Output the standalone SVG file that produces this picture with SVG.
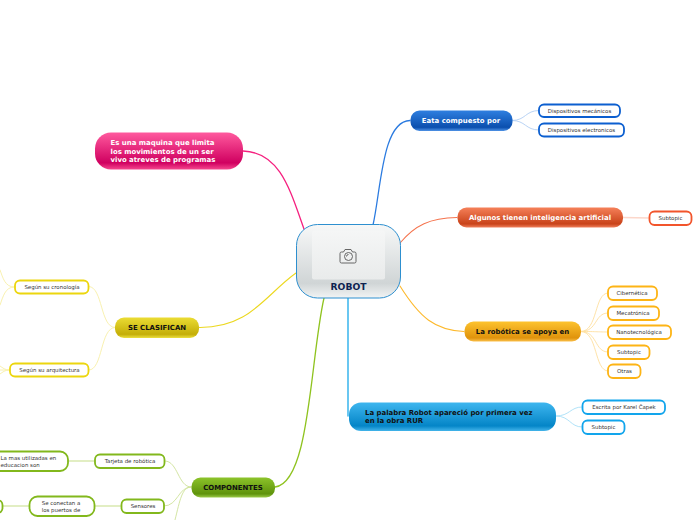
<svg xmlns="http://www.w3.org/2000/svg" width="696" height="520" viewBox="0 0 696 520">
<style>
text{font-family:"DejaVu Sans",Verdana,sans-serif;text-anchor:middle}
.m{font-size:6.95px;font-weight:bold}
.w{fill:#fff}.k{fill:#111}
.s{font-size:5.45px;fill:#333}
.sb{fill:#fff;stroke-width:1.8}
.l{text-anchor:start}
</style>
<defs>
<linearGradient id="gc" x1="0" y1="0" x2="0" y2="1"><stop offset="0" stop-color="#f7f8f8"/><stop offset=".8" stop-color="#d0d5d6"/><stop offset="1" stop-color="#f2f4f4"/></linearGradient>
<linearGradient id="gi" x1="0" y1="0" x2="0" y2="1"><stop offset="0" stop-color="#f5f6f6"/><stop offset="1" stop-color="#e9ebeb"/></linearGradient>
<linearGradient id="g1" x1="0" y1="0" x2="0" y2="1"><stop offset="0" stop-color="#2f7fe0"/><stop offset=".82" stop-color="#0b4fae"/><stop offset="1" stop-color="#4f93e6"/></linearGradient>
<linearGradient id="g2" x1="0" y1="0" x2="0" y2="1"><stop offset="0" stop-color="#f58059"/><stop offset=".82" stop-color="#c9431a"/><stop offset="1" stop-color="#f0805c"/></linearGradient>
<linearGradient id="g3" x1="0" y1="0" x2="0" y2="1"><stop offset="0" stop-color="#fdc32e"/><stop offset=".82" stop-color="#e0930c"/><stop offset="1" stop-color="#fbc04a"/></linearGradient>
<linearGradient id="g4" x1="0" y1="0" x2="0" y2="1"><stop offset="0" stop-color="#3eb6ef"/><stop offset=".82" stop-color="#0485c7"/><stop offset="1" stop-color="#43b4ea"/></linearGradient>
<linearGradient id="g5" x1="0" y1="0" x2="0" y2="1"><stop offset="0" stop-color="#ff5a9e"/><stop offset=".82" stop-color="#d00060"/><stop offset="1" stop-color="#f5488f"/></linearGradient>
<linearGradient id="g6" x1="0" y1="0" x2="0" y2="1"><stop offset="0" stop-color="#ebdc33"/><stop offset=".82" stop-color="#c4ae08"/><stop offset="1" stop-color="#ece03f"/></linearGradient>
<linearGradient id="g7" x1="0" y1="0" x2="0" y2="1"><stop offset="0" stop-color="#8cc32a"/><stop offset=".82" stop-color="#5f930c"/><stop offset="1" stop-color="#9ccb48"/></linearGradient>
</defs>
<g id="connectors" fill="none" stroke-linecap="round">
<path d="M373 225C381 190 382 121 410 120.500" stroke="#2b7be0" stroke-width="1.300"/>
<path d="M400 243C415 225 430 218 457 217.500" stroke="#f5734d" stroke-width="1.100"/>
<path d="M400 286C420 318 435 330 464 331.500" stroke="#fdb92c" stroke-width="1.100"/>
<path d="M348 298V416" stroke="#19a9ea" stroke-width="1.300"/>
<path d="M304 229C290 190 280 152 243 151" stroke="#f5207f" stroke-width="1.300"/>
<path d="M296 273C265 295 250 328 199 327.500" stroke="#ecd820" stroke-width="1.100"/>
<path d="M324 298C310 360 310 483 275 487" stroke="#8fc31f" stroke-width="1.300"/>
<g stroke-width=".9" opacity=".9">
<path d="M512 120.500C526 120.500 525 110.500 539 110.500M512 120.500C526 120.500 525 130 539 130" stroke="#a9c9f3"/>
<path d="M623 217.500L649 218" stroke="#fcd3c5" stroke-width="1.500"/>
<path d="M581 331.500C598 331.500 594 293 608 293M581 331.500C598 331.500 594 313 608 313M581 331.500C598 331.500 598 332 608 332M581 331.500C598 331.500 594 352 608 352M581 331.500C598 331.500 594 371 608 371" stroke="#fedc95"/>
<path d="M556 416C570 416 570 407 582 407M556 416C570 416 570 427 582 427" stroke="#9fdcf7"/>
<path d="M115 327.500C100 327.500 103 287 89 286.500M115 327.500C100 327.500 103 370 89 370" stroke="#f7ee9e"/>
<path d="M14 287C5 287 3 278 0 270M14 287C5 287 3 297 0 305M9 370H0M9 370C5 370 3 368 0 366M9 370C5 370 3 372 0 374" stroke="#f7ee9e"/>
<path d="M191 487C178 487 178 461 165 461M191 487C178 487 178 506 164 506M191 487C182 487 180 500 175 520" stroke="#c9e08f"/>
<path d="M95 461H68M121 506H95M29 506H3" stroke="#d5e8a8" stroke-width="1.300"/>
</g>
</g>
<g id="center"><rect x="296.500" y="224.500" width="104" height="73.500" rx="21" fill="url(#gc)" stroke="#2d8fcf"/><rect x="312" y="230.500" width="73" height="49" rx="2" fill="url(#gi)"/>
<g fill="none" stroke="#666" stroke-width="1"><path d="M340 253.500a1.500 1.500 0 0 1 1.500-1.500h2l1.500-2.500h6l1.500 2.500h2a1.500 1.500 0 0 1 1.500 1.500v8a1.500 1.500 0 0 1-1.500 1.500h-13a1.500 1.500 0 0 1-1.500-1.500z"/><circle cx="348.500" cy="256.500" r="4"/><path d="M346.500 256.500a2 2 0 0 1 2-2"/></g>
<text x="348.500" y="290" font-size="9.200" font-weight="bold" fill="#0e2350">ROBOT</text></g>
<g id="n1"><rect x="410.500" y="110.500" width="102" height="20.500" rx="9" fill="url(#g1)"/><text class="m w" x="461" y="122.800">Eata compuesto por</text></g>
<g id="n1a"><rect class="sb" stroke="#0c5fd0" x="539" y="104.500" width="81" height="12.500" rx="5"/><text class="s" x="579.500" y="113">Dispositivos mecánicos</text></g>
<g id="n1b"><rect class="sb" stroke="#0c5fd0" x="539" y="123.500" width="85" height="13" rx="5"/><text class="s" x="581.500" y="132">Dispositivos electronicos</text></g>
<g id="n2"><rect x="457.500" y="207.500" width="165.500" height="20" rx="9" fill="url(#g2)"/><text class="m w" x="540" y="220">Algunos tienen inteligencia artificial</text></g>
<g id="n2a"><rect class="sb" stroke="#f2552c" x="649.500" y="211.500" width="42" height="13.500" rx="5"/><text class="s" x="670.500" y="220.300">Subtopic</text></g>
<g id="n3"><rect x="464.500" y="321.500" width="116.500" height="20" rx="9" fill="url(#g3)"/><text class="m k" x="522.500" y="334">La robótica se apoya en</text></g>
<g id="n3a"><rect class="sb" stroke="#fdb415" x="608" y="286.500" width="49" height="13.500" rx="5"/><text class="s" x="632" y="295.300">Cibernética</text></g>
<g id="n3b"><rect class="sb" stroke="#fdb415" x="608" y="306.500" width="51" height="13.500" rx="5"/><text class="s" x="633" y="315.300">Mecatrónica</text></g>
<g id="n3c"><rect class="sb" stroke="#fdb415" x="608" y="325.500" width="63" height="13.500" rx="5"/><text class="s" x="639" y="334.300">Nanotecnológica</text></g>
<g id="n3d"><rect class="sb" stroke="#fdb415" x="608" y="345.500" width="41.500" height="13.500" rx="5"/><text class="s" x="629" y="354.300">Subtopic</text></g>
<g id="n3e"><rect class="sb" stroke="#fdb415" x="608" y="364.500" width="32.500" height="13.500" rx="5"/><text class="s" x="624.500" y="373.300">Otras</text></g>
<g id="n4"><rect x="349" y="402.500" width="207" height="28.500" rx="12" fill="url(#g4)"/><text class="m k l" x="365" y="415">La palabra Robot apareció por primera vez</text><text class="m k l" x="365" y="423">en la obra RUR</text></g>
<g id="n4a"><rect class="sb" stroke="#12a5ec" x="582.500" y="400.500" width="82.500" height="13.500" rx="5"/><text class="s" x="624" y="409.300">Escrita por Karel Čapek</text></g>
<g id="n4b"><rect class="sb" stroke="#12a5ec" x="582.500" y="420.500" width="42" height="13.500" rx="5"/><text class="s" x="603.500" y="429.300">Subtopic</text></g>
<g id="n5"><rect x="95" y="132.500" width="148" height="37" rx="16" fill="url(#g5)"/><text class="m w l" x="110.500" y="145">Es una maquina que limita</text><text class="m w l" x="110.500" y="153.500">los movimientos de un ser</text><text class="m w l" x="110.500" y="161.800">vivo atreves de programas</text></g>
<g id="n6"><rect x="115" y="317.500" width="84" height="20.500" rx="9" fill="url(#g6)"/><text class="m k" x="157" y="330">SE CLASIFICAN</text></g>
<g id="n6a"><rect class="sb" stroke="#ecd60e" x="15" y="280.500" width="73.500" height="13" rx="5"/><text class="s" x="52" y="289">Según su cronología</text></g>
<g id="n6b"><rect class="sb" stroke="#ecd60e" x="10" y="363.500" width="78.500" height="13" rx="5"/><text class="s" x="49.500" y="372">Según su arquitectura</text></g>
<g id="n7"><rect x="191.500" y="477.500" width="83.500" height="20" rx="9" fill="url(#g7)"/><text class="m k" x="233" y="490">COMPONENTES</text></g>
<g id="n7a"><rect class="sb" stroke="#82b81c" x="95" y="454.500" width="69.500" height="13.500" rx="5"/><text class="s" x="130" y="463.300">Tarjeta de robótica</text></g>
<g id="n7b"><rect class="sb" stroke="#82b81c" x="121.500" y="499.500" width="42.500" height="13.500" rx="5"/><text class="s" x="143" y="508.300">Sensores</text></g>
<g id="n7c"><rect class="sb" stroke="#82b81c" x="-14" y="451.500" width="82" height="19.500" rx="8"/><text class="s l" x="0.500" y="459.800">La mas utilizadas en</text><text class="s l" x="0.500" y="467.200">educacion son</text></g>
<g id="n7d"><rect class="sb" stroke="#82b81c" x="29.500" y="496.500" width="65" height="19.500" rx="8"/><text class="s" x="61" y="504.800">Se conectan a</text><text class="s" x="61" y="511.800">los puertos de</text></g>
<g id="n7e"><rect class="sb" stroke="#82b81c" x="-20" y="500" width="22.500" height="13" rx="5"/></g>
</svg>
